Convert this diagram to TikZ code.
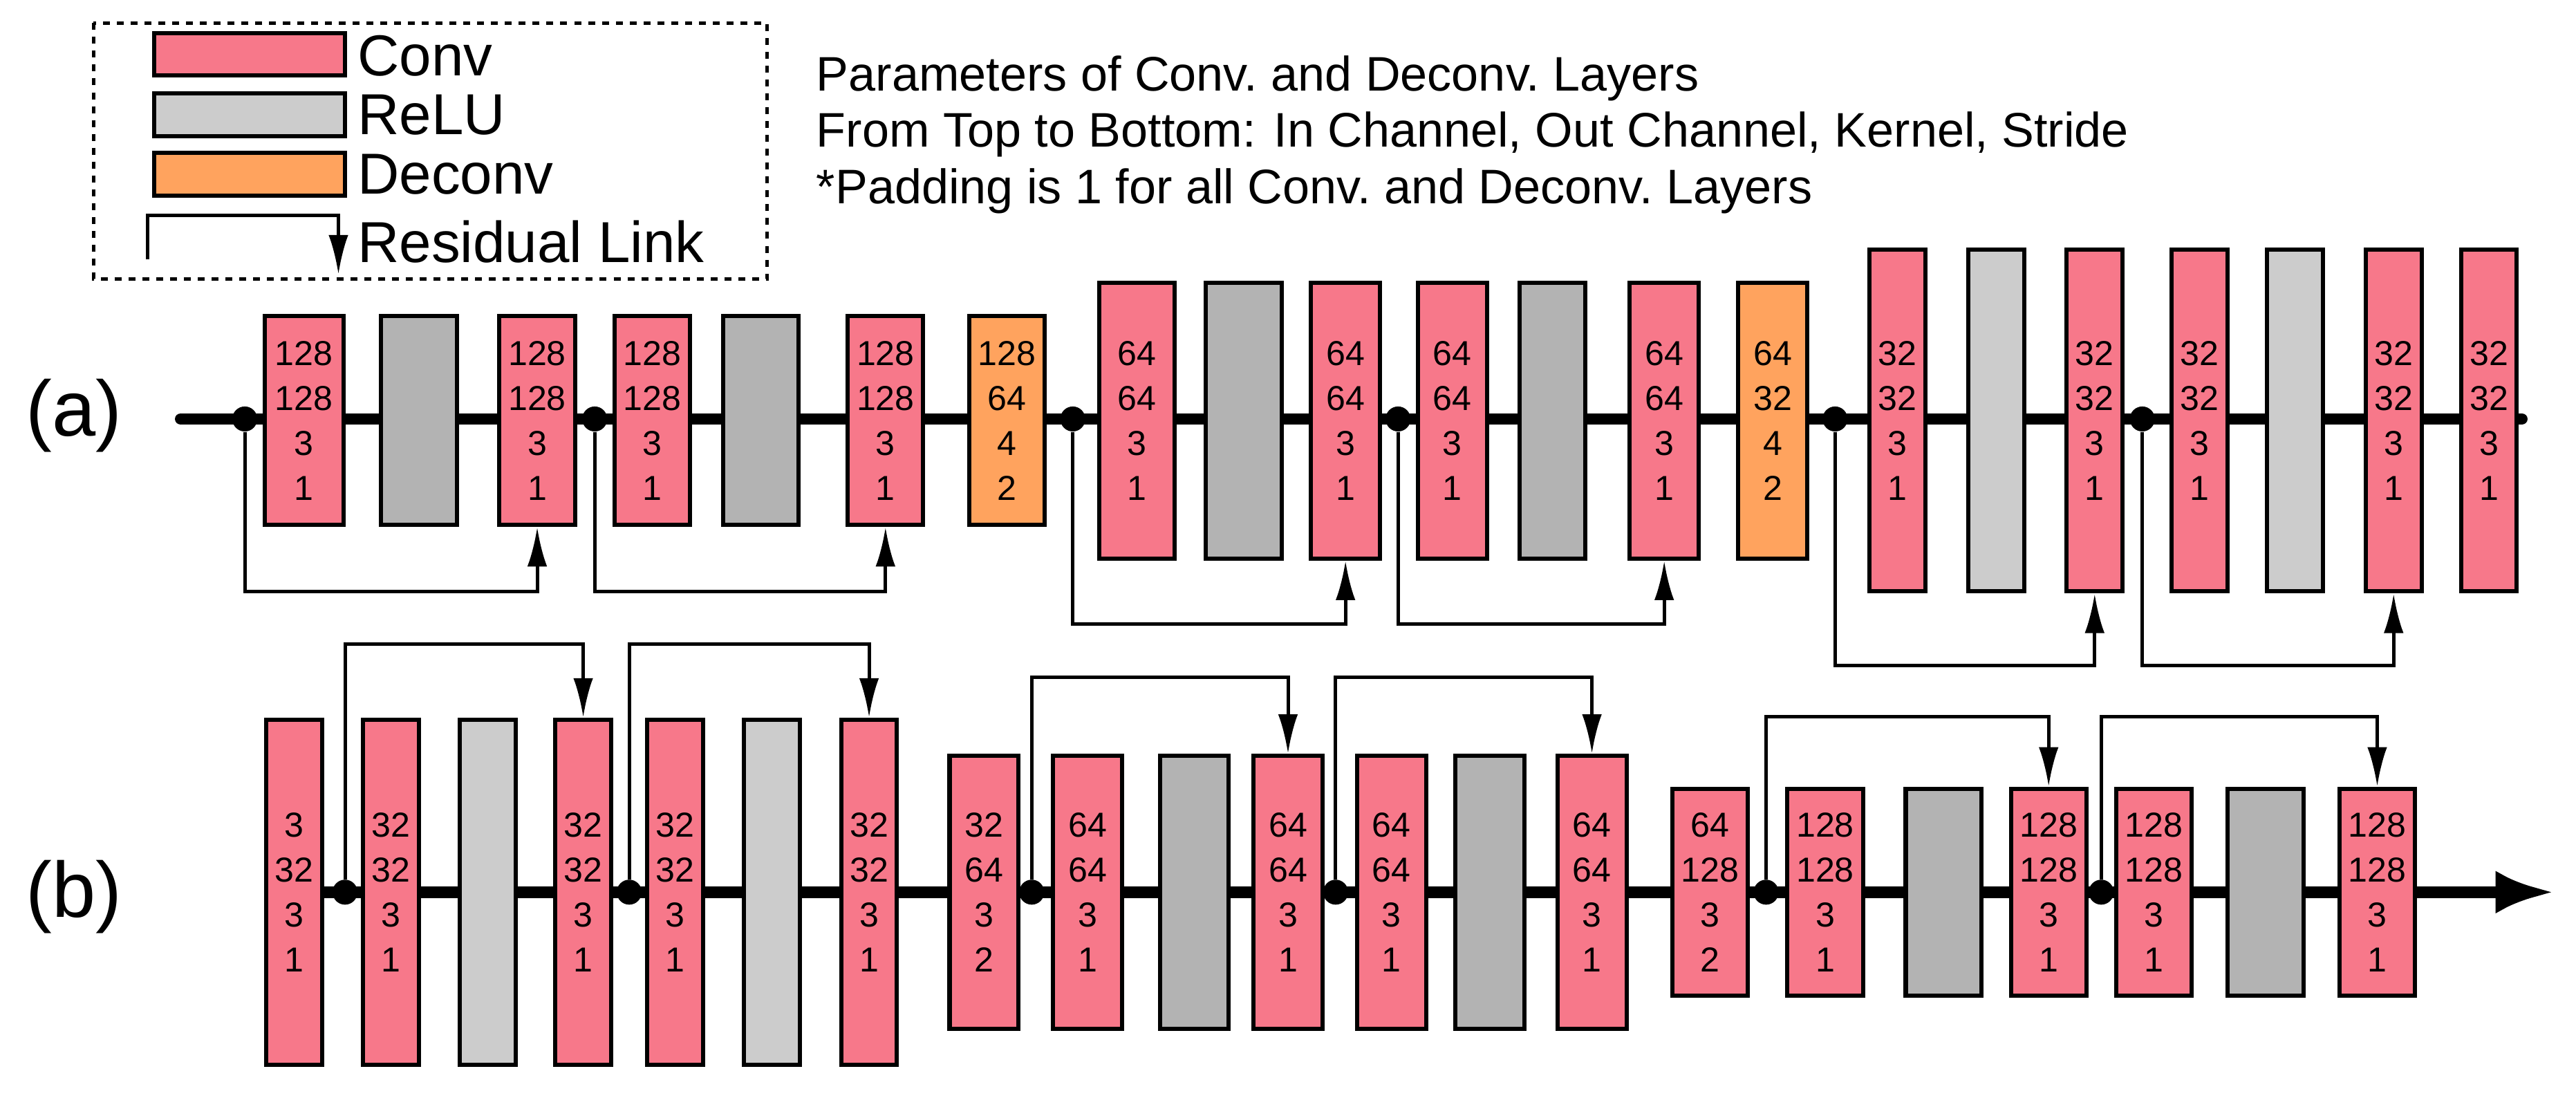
\documentclass[tikz,border=0pt]{standalone}
\usepackage{fontspec}
\setmainfont{Liberation Sans}
\usetikzlibrary{arrows.meta}
\definecolor{convpink}{HTML}{F7788A}
\definecolor{reludark}{HTML}{B3B3B3}
\definecolor{relulight}{HTML}{CCCCCC}
\definecolor{deconvorange}{HTML}{FFA35E}
\tikzset{
  layer/.style={draw=black, line width=1.8pt, inner sep=0pt, align=center,
    font=\fontsize{15}{19.5}\selectfont},
  conv/.style={layer, fill=convpink},
  rdark/.style={layer, fill=reludark},
  rlight/.style={layer, fill=relulight},
  deconv/.style={layer, fill=deconvorange},
  mainline/.style={line width=5pt},
  res/.style={line width=1.5pt, -{Latex[length=0.6cm, width=0.3cm]}},
  dot/.style={circle, fill=black, inner sep=0pt, minimum size=0.38cm},
  legtext/.style={anchor=west, inner sep=1pt, font=\fontsize{25}{26}\selectfont},
}
\begin{document}
\begin{tikzpicture}[x=0.025cm, y=-0.025cm]
    \useasboundingbox (0,0) rectangle (1568,668);

    % Legend
    \draw[dashed, line width=1.5pt] (57,14) rectangle (467,170);
    \draw[conv] (94,20) rectangle (210,46);
    \draw[rlight] (94,57) rectangle (210,83);
    \draw[deconv] (94,93) rectangle (210,119);
    \node[legtext] (lconv) at (216,34) {Conv};
    \node[legtext] (lrelu) at (216,70) {ReLU};
    \node[legtext] (ldeconv) at (216,106) {Deconv};
    \node[legtext] (lres) at (216,147) {Residual Link};
    \coordinate (lresa) at (90,158);
    \coordinate (lresb) at (206,167);
    \draw[res] (lresa) |- (206,131) -- (lresb);

    % Parameter notes
    \node[anchor=west, align=left, font=\fontsize{21}{24.5}\selectfont] (notes) at (492,82)
      {Parameters of Conv.\ and Deconv.\ Layers\\
       From Top to Bottom: In Channel, Out Channel, Kernel, Stride\\
       *Padding is 1 for all Conv.\ and Deconv.\ Layers};

    % Row labels
    \node[font=\fontsize{34}{38}\selectfont] (la) at (45,253) {(a)};
    \node[font=\fontsize{34}{38}\selectfont] (lb) at (45,546) {(b)};

    % Row (a)
    \coordinate (astart) at (110,255);
    \coordinate (aend) at (1535,255);
    \draw[mainline, line cap=round] (astart) -- (aend);
    \foreach \n/\xa/\xb/\h/\st/\lab in {
        a1/161/209/127/conv/{128\\128\\3\\1}, a2/232/278/127/rdark/{},
        a3/304/350/127/conv/{128\\128\\3\\1}, a4/374/420/127/conv/{128\\128\\3\\1},
        a5/440/486/127/rdark/{}, a6/516/562/127/conv/{128\\128\\3\\1},
        a7/590/636/127/deconv/{128\\64\\4\\2},
        a8/669/715/168/conv/{64\\64\\3\\1}, a9/734/780/168/rdark/{},
        a10/798/840/168/conv/{64\\64\\3\\1}, a11/863/905/168/conv/{64\\64\\3\\1},
        a12/925/965/168/rdark/{}, a13/992/1034/168/conv/{64\\64\\3\\1},
        a14/1058/1100/168/deconv/{64\\32\\4\\2},
        a15/1138/1172/208/conv/{32\\32\\3\\1}, a16/1198/1232/208/rlight/{},
        a17/1258/1292/208/conv/{32\\32\\3\\1}, a18/1322/1356/208/conv/{32\\32\\3\\1},
        a19/1380/1414/208/rlight/{}, a20/1440/1474/208/conv/{32\\32\\3\\1},
        a21/1498/1532/208/conv/{32\\32\\3\\1}}
        \node[\st, minimum width={(\xb-\xa)*0.025cm}, minimum height={\h*0.025cm}]
          (\n) at ({(\xa+\xb)/2},256) {\lab};
    \foreach \d/\x in {da1/149, da2/362, da3/653, da4/851, da5/1117, da6/1304}
        \node[dot] (\d) at (\x,255) {};
    \draw[res] (da1) -- ++(0,105) -| (a3.south);
    \draw[res] (da2) -- ++(0,105) -| (a6.south);
    \draw[res] (da3) -- ++(0,125) -| (a10.south);
    \draw[res] (da4) -- ++(0,125) -| (a13.south);
    \draw[res] (da5) -- ++(0,150) -| (a17.south);
    \draw[res] (da6) -- ++(0,150) -| (a20.south);

    % Row (b)
    \coordinate (bstart) at (179,543);
    \coordinate (bend) at (1555,543);
    \draw[mainline, -{Latex[length=0.9cm, width=0.65cm]}] (bstart) -- (bend);
    \foreach \n/\xa/\xb/\h/\st/\lab in {
        b1/162/196/210/conv/{3\\32\\3\\1}, b2/221/255/210/conv/{32\\32\\3\\1},
        b3/280/314/210/rlight/{}, b4/338/372/210/conv/{32\\32\\3\\1},
        b5/394/428/210/conv/{32\\32\\3\\1}, b6/453/487/210/rlight/{},
        b7/512/546/210/conv/{32\\32\\3\\1},
        b8/578/620/166/conv/{32\\64\\3\\2}, b9/641/683/166/conv/{64\\64\\3\\1},
        b10/706/748/166/rdark/{}, b11/763/805/166/conv/{64\\64\\3\\1},
        b12/826/868/166/conv/{64\\64\\3\\1}, b13/886/928/166/rdark/{},
        b14/948/990/166/conv/{64\\64\\3\\1},
        b15/1018/1064/126/conv/{64\\128\\3\\2}, b16/1088/1134/126/conv/{128\\128\\3\\1},
        b17/1160/1206/126/rdark/{}, b18/1224/1270/126/conv/{128\\128\\3\\1},
        b19/1288/1334/126/conv/{128\\128\\3\\1}, b20/1356/1402/126/rdark/{},
        b21/1424/1470/126/conv/{128\\128\\3\\1}}
        \node[\st, minimum width={(\xb-\xa)*0.025cm}, minimum height={\h*0.025cm}]
          (\n) at ({(\xa+\xb)/2},543) {\lab};
    \foreach \d/\x in {db1/210, db2/383, db3/628, db4/813, db5/1075, db6/1279}
        \node[dot] (\d) at (\x,543) {};
    \draw[res] (db1) -- ++(0,-151) -| (b4.north);
    \draw[res] (db2) -- ++(0,-151) -| (b7.north);
    \draw[res] (db3) -- ++(0,-131) -| (b11.north);
    \draw[res] (db4) -- ++(0,-131) -| (b14.north);
    \draw[res] (db5) -- ++(0,-107) -| (b18.north);
    \draw[res] (db6) -- ++(0,-107) -| (b21.north);
\end{tikzpicture}
\end{document}
